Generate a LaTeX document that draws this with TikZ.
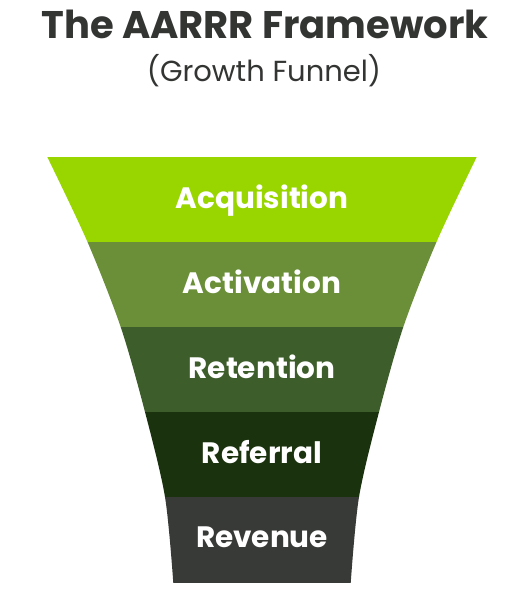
\documentclass[tikz,border=0pt]{standalone}
\usepackage{fontspec}
\setmainfont{Poppins}
\definecolor{titlegray}{RGB}{51,53,51}
\definecolor{acqgreen}{RGB}{153,214,0}
\definecolor{actgreen}{RGB}{106,143,56}
\definecolor{retgreen}{RGB}{61,93,42}
\definecolor{refgreen}{RGB}{27,50,14}
\definecolor{revgray}{RGB}{56,58,55}
\tikzset{stagelabel/.style={anchor=base,text=white,font=\bfseries\fontsize{29.5}{32}\selectfont}}

\begin{document}
\begin{tikzpicture}[x=1pt,y=-1pt]
      \useasboundingbox (0,0) rectangle (528,599) ;
      \node[anchor=base,text=titlegray,font=\bfseries\fontsize{38.5}{42}\selectfont] %
      (Title) at (265,38.5) {The AARRR Framework} ;
      \node[anchor=base,text=titlegray,font=\fontsize{29}{32}\selectfont] %
      (Sub) at (264,81.5) {(Growth Funnel)} ;
      \begin{scope}
        \clip plot[smooth] coordinates {(47.3,157) (87.3,241.5) (120.7,327) (145,412) (165,497) (173.3,583)} %
        -- plot[smooth] coordinates {(350.7,583) (359,497) (379,412) (403.3,327) (436.7,241.5) (476.7,157)} -- cycle ;
        \fill[acqgreen] (0,157) rectangle (528,241.5) ;
        \fill[actgreen] (0,241.5) rectangle (528,327) ;
        \fill[retgreen] (0,327) rectangle (528,412) ;
        \fill[refgreen] (0,412) rectangle (528,497) ;
        \fill[revgray] (0,497) rectangle (528,583) ;
      \end{scope}
      \node[stagelabel] (Acq) at (262,208.3) {Acquisition} ;
      \node[stagelabel] (Act) at (262,293.3) {Activation} ;
      \node[stagelabel] (Ret) at (262,378.3) {Retention} ;
      \node[stagelabel] (Ref) at (262,463) {Referral} ;
      \node[stagelabel] (Rev) at (262,547.5) {Revenue} ;
    \end{tikzpicture}
\end{document}
